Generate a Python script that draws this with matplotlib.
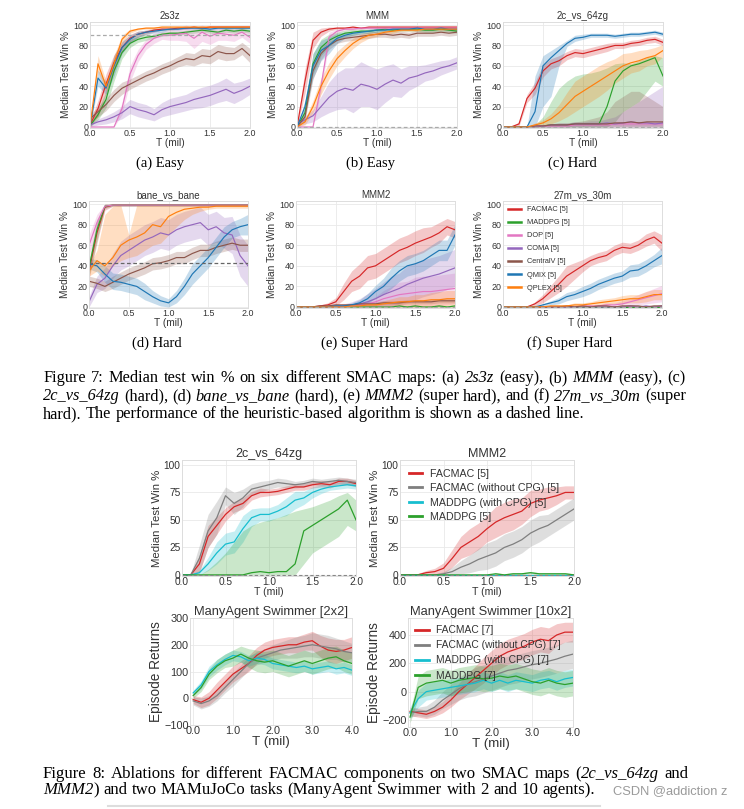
import numpy as np
import matplotlib
matplotlib.use('Agg')
import matplotlib.pyplot as plt

plt.rcParams['font.family'] = ['Liberation Sans', 'DejaVu Sans']

# ---------------- data ----------------
t_smac = [0.0, 0.1, 0.2, 0.3, 0.4, 0.5, 0.6, 0.7, 0.8, 0.9, 1.0,
          1.1, 1.2, 1.3, 1.4, 1.5, 1.6, 1.7, 1.8, 1.9, 2.0]
t_swim = [0.0, 0.2, 0.4, 0.6, 0.8, 1.0, 1.2, 1.4, 1.6, 1.8, 2.0,
          2.2, 2.4, 2.6, 2.8, 3.0, 3.2, 3.4, 3.6, 3.8, 4.0]

algos = ['FACMAC [5]', 'MADDPG [5]', 'DOP [5]', 'COMA [5]', 'CentralV [5]', 'QMIX [5]', 'QPLEX [5]']
algo_colors = ['#d62728', '#2ca02c', '#e377c2', '#9467bd', '#8c564b', '#1f77b4', '#ff7f0e']

# (a) 2s3z
a_facmac = [2, 18, 42, 63, 78, 87, 91, 93, 95, 96, 96, 97, 97, 98, 97, 98, 98, 98, 98, 98, 98]
a_facmac_sd = [3, 8, 10, 8, 5, 4, 3, 2, 2, 1, 1, 1, 1, 1, 1, 1, 1, 1, 1, 1, 1]
a_maddpg = [1, 12, 27, 55, 73, 82, 86, 88, 89, 91, 92, 92, 93, 94, 95, 94, 93, 95, 94, 95, 94]
a_maddpg_sd = [2, 5, 8, 10, 6, 4, 3, 3, 2, 2, 2, 2, 2, 2, 2, 2, 2, 2, 2, 2, 2]
a_dop = [0, 0, 0, 0, 18, 52, 70, 81, 87, 90, 90, 91, 92, 87, 93, 89, 92, 91, 90, 93, 88]
a_dop_sd = [0, 0, 0, 1, 6, 8, 6, 5, 5, 4, 5, 6, 8, 10, 9, 8, 7, 6, 6, 5, 6]
a_coma = [2, 5, 7, 10, 14, 20, 17, 15, 12, 17, 20, 22, 24, 27, 29, 31, 34, 37, 33, 36, 40]
a_coma_sd = [2, 3, 4, 5, 6, 7, 7, 7, 6, 7, 8, 8, 8, 9, 10, 10, 10, 11, 10, 9, 8]
a_central = [8, 15, 22, 31, 38, 42, 46, 50, 53, 57, 60, 64, 67, 66, 70, 69, 74, 72, 72, 77, 70]
a_central_sd = [4, 5, 6, 6, 6, 5, 5, 5, 5, 5, 5, 5, 6, 6, 7, 7, 7, 7, 6, 6, 7]
a_qmix = [0, 48, 38, 60, 78, 86, 91, 93, 94, 95, 96, 96, 97, 97, 97, 96, 97, 97, 97, 97, 97]
a_qmix_sd = [1, 8, 6, 10, 6, 4, 3, 2, 2, 2, 1, 1, 1, 1, 1, 1, 1, 1, 1, 1, 1]
a_qplex = [0, 62, 40, 62, 86, 94, 96, 97, 97, 98, 98, 98, 98, 98, 98, 98, 98, 98, 98, 98, 98]
a_qplex_sd = [1, 8, 5, 8, 4, 2, 1, 1, 1, 1, 1, 1, 1, 1, 1, 1, 1, 1, 1, 1, 1]

# (b) MMM
b_facmac = [0, 45, 85, 93, 96, 97, 97, 98, 97, 98, 98, 98, 98, 98, 98, 98, 98, 98, 98, 98, 98]
b_facmac_sd = [1, 12, 8, 4, 2, 1, 1, 1, 1, 1, 1, 1, 1, 1, 1, 1, 1, 1, 1, 1, 1]
b_maddpg = [0, 14, 62, 78, 85, 89, 92, 93, 94, 94, 95, 96, 95, 96, 96, 96, 95, 95, 96, 95, 94]
b_maddpg_sd = [1, 5, 10, 8, 6, 4, 3, 3, 2, 2, 2, 2, 2, 2, 2, 2, 2, 2, 2, 2, 2]
b_dop = [0, 0, 0, 40, 88, 94, 96, 96, 97, 97, 97, 97, 97, 97, 97, 97, 97, 97, 97, 97, 97]
b_dop_sd = [0, 0, 0, 6, 5, 2, 1, 1, 1, 1, 1, 1, 1, 1, 1, 1, 1, 1, 1, 1, 1]
b_coma = [3, 7, 11, 20, 29, 35, 38, 36, 42, 40, 37, 42, 46, 43, 48, 50, 53, 55, 58, 60, 63]
b_coma_sd = [3, 4, 6, 10, 15, 18, 20, 22, 22, 20, 20, 18, 16, 14, 12, 10, 8, 8, 7, 6, 6]
b_central = [0, 10, 55, 72, 80, 85, 87, 88, 89, 90, 91, 91, 90, 91, 90, 92, 92, 92, 93, 92, 93]
b_central_sd = [1, 4, 8, 6, 4, 3, 3, 3, 3, 3, 3, 3, 3, 3, 3, 3, 3, 3, 3, 3, 3]
b_qmix = [0, 20, 60, 75, 80, 87, 90, 92, 93, 94, 95, 95, 96, 96, 96, 97, 96, 96, 97, 96, 96]
b_qmix_sd = [1, 6, 12, 10, 8, 5, 3, 2, 2, 2, 2, 1, 1, 1, 1, 1, 1, 1, 1, 1, 1]
b_qplex = [0, 5, 20, 40, 55, 67, 75, 82, 87, 90, 91, 93, 94, 95, 95, 95, 96, 96, 96, 96, 96]
b_qplex_sd = [1, 3, 6, 8, 8, 7, 6, 5, 4, 3, 2, 2, 2, 1, 1, 1, 1, 1, 1, 1, 1]

# (c) 2c_vs_64zg
c_facmac = [0, 0, 3, 28, 38, 55, 62, 65, 70, 73, 72, 74, 76, 78, 80, 80, 82, 83, 85, 86, 83]
c_facmac_sd = [0, 0, 2, 4, 6, 6, 5, 5, 4, 4, 4, 4, 4, 4, 3, 3, 3, 3, 3, 3, 3]
c_maddpg = [0, 0, 0, 0, 0, 1, 2, 2, 2, 3, 3, 3, 3, 20, 45, 55, 60, 62, 65, 68, 50]
c_maddpg_lo = [0, 0, 0, 0, 0, 0, 0, 0, 0, 0, 0, 0, 0, 0, 5, 15, 20, 25, 35, 45, 40]
c_maddpg_hi = [0, 0, 0, 0, 2, 10, 25, 38, 45, 50, 52, 53, 55, 58, 62, 63, 62, 65, 68, 70, 68]
c_dop = [0, 0, 0, 0, 0, 1, 1, 1, 1, 2, 2, 2, 2, 2, 3, 3, 3, 3, 3, 3, 3]
c_dop_sd = [0, 0, 0, 0, 0, 1, 1, 1, 1, 1, 1, 1, 1, 1, 2, 2, 2, 2, 2, 2, 2]
c_coma = [0, 0, 0, 0, 1, 1, 2, 2, 2, 3, 3, 3, 3, 4, 3, 4, 5, 4, 4, 3, 4]
c_coma_lo = [0, 0, 0, 0, 0, 0, 0, 0, 0, 0, 0, 0, 0, 0, 0, 0, 0, 0, 0, 0, 0]
c_coma_hi = [0, 0, 0, 0, 1, 2, 3, 4, 4, 5, 5, 6, 6, 8, 10, 15, 20, 25, 30, 35, 40]
c_central = [0, 0, 0, 0, 1, 1, 2, 2, 2, 3, 3, 3, 3, 3, 4, 4, 5, 4, 5, 5, 5]
c_central_lo = [0, 0, 0, 0, 0, 0, 0, 0, 0, 0, 0, 0, 0, 0, 0, 0, 0, 0, 0, 0, 0]
c_central_hi = [0, 0, 0, 0, 1, 2, 3, 4, 4, 5, 6, 8, 10, 15, 25, 30, 35, 35, 30, 25, 20]
c_qmix = [0, 0, 0, 0, 15, 60, 68, 75, 82, 87, 88, 90, 90, 90, 89, 90, 91, 91, 92, 93, 91]
c_qmix_lo = [0, 0, 0, 0, 0, 20, 30, 60, 79, 84, 86, 88, 88, 88, 87, 88, 89, 89, 90, 91, 89]
c_qmix_hi = [0, 0, 0, 0, 50, 70, 75, 80, 85, 90, 91, 92, 92, 92, 91, 92, 93, 93, 94, 95, 93]
c_qplex = [0, 0, 0, 0, 2, 4, 8, 14, 22, 30, 35, 40, 45, 50, 55, 60, 63, 65, 68, 70, 75]
c_qplex_sd = [0, 0, 0, 0, 2, 3, 5, 8, 12, 15, 15, 15, 15, 14, 12, 12, 10, 10, 8, 8, 6]

# (d) bane_vs_bane
d_facmac = [35, 72, 97, 99, 99, 99, 99, 99, 99, 99, 99, 99, 99, 99, 99, 99, 99, 99, 99, 99, 99]
d_facmac_sd = [8, 10, 3, 1, 1, 1, 1, 1, 1, 1, 1, 1, 1, 1, 1, 1, 1, 1, 1, 1, 1]
d_maddpg = [38, 75, 98, 99, 99, 99, 99, 99, 99, 99, 99, 99, 99, 99, 99, 99, 99, 99, 99, 99, 99]
d_maddpg_sd = [8, 10, 2, 1, 1, 1, 1, 1, 1, 1, 1, 1, 1, 1, 1, 1, 1, 1, 1, 1, 1]
d_dop = [60, 82, 98, 99, 99, 99, 99, 99, 99, 99, 99, 99, 99, 99, 99, 99, 99, 99, 99, 99, 99]
d_dop_sd = [10, 8, 2, 1, 1, 1, 1, 1, 1, 1, 1, 1, 1, 1, 1, 1, 1, 1, 1, 1, 1]
d_coma = [5, 22, 28, 40, 50, 55, 60, 65, 68, 72, 70, 75, 78, 80, 82, 75, 78, 72, 70, 50, 40]
d_coma_sd = [5, 8, 10, 12, 14, 15, 15, 15, 15, 15, 15, 15, 15, 15, 15, 15, 15, 15, 18, 20, 20]
d_central = [25, 23, 20, 24, 28, 32, 35, 38, 42, 43, 45, 48, 48, 52, 55, 55, 58, 60, 62, 60, 60]
d_central_sd = [5, 5, 5, 6, 6, 6, 6, 6, 6, 6, 6, 6, 6, 6, 6, 6, 6, 6, 6, 6, 6]
d_qmix = [42, 40, 32, 25, 24, 22, 20, 15, 10, 6, 4, 10, 20, 32, 40, 48, 58, 68, 75, 78, 80]
d_qmix_sd = [5, 6, 8, 8, 8, 8, 8, 8, 6, 5, 4, 6, 8, 10, 10, 10, 10, 10, 8, 8, 10]
d_qplex = [35, 45, 40, 48, 60, 65, 68, 72, 80, 78, 88, 92, 95, 96, 97, 97, 98, 98, 98, 98, 98]
d_qplex_lo = [30, 35, 30, 40, 45, 48, 50, 55, 60, 62, 70, 78, 85, 90, 93, 95, 96, 96, 96, 96, 96]
d_qplex_hi = [40, 55, 90, 98, 99, 70, 99, 99, 99, 99, 99, 99, 99, 99, 99, 99, 99, 99, 99, 99, 99]

# (e) MMM2
e_facmac = [0, 0, 0, 1, 2, 5, 15, 25, 30, 38, 40, 45, 50, 55, 58, 62, 65, 68, 72, 78, 75]
e_facmac_sd = [0, 0, 0, 1, 2, 4, 8, 10, 12, 12, 12, 12, 12, 12, 12, 12, 12, 10, 10, 8, 8]
e_maddpg = [0, 0, 0, 0, 0, 0, 0, 0, 0, 0, 0, 0, 0, 1, 0, 1, 0, 0, 1, 0, 1]
e_maddpg_sd = [0, 0, 0, 0, 0, 0, 0, 0, 0, 0, 0, 0, 0, 1, 1, 1, 1, 1, 1, 1, 1]
e_dop = [0, 0, 0, 0, 0, 0, 0, 1, 2, 3, 5, 8, 10, 12, 13, 14, 15, 15, 16, 17, 18]
e_dop_sd = [0, 0, 0, 0, 0, 0, 0, 1, 2, 3, 5, 8, 10, 12, 12, 15, 15, 15, 15, 15, 15]
e_coma = [0, 0, 0, 0, 0, 1, 1, 2, 3, 5, 8, 12, 15, 18, 22, 25, 28, 30, 32, 35, 38]
e_coma_sd = [0, 0, 0, 0, 0, 1, 2, 3, 5, 8, 10, 12, 15, 15, 18, 18, 18, 18, 18, 18, 18]
e_central = [0, 0, 0, 1, 1, 2, 2, 2, 3, 3, 3, 4, 4, 4, 5, 5, 5, 5, 6, 6, 6]
e_central_sd = [0, 0, 0, 1, 1, 1, 1, 1, 1, 2, 2, 2, 2, 2, 2, 2, 2, 2, 2, 2, 2]
e_qmix = [0, 0, 0, 0, 0, 1, 1, 2, 4, 8, 15, 20, 28, 35, 40, 42, 45, 50, 55, 55, 70]
e_qmix_sd = [0, 0, 0, 0, 0, 1, 1, 2, 3, 5, 6, 8, 10, 10, 10, 10, 10, 10, 10, 10, 10]
e_qplex = [0, 0, 0, 0, 0, 0, 0, 1, 1, 2, 2, 3, 4, 5, 5, 6, 6, 7, 7, 8, 8]
e_qplex_sd = [0, 0, 0, 0, 0, 0, 0, 1, 1, 2, 2, 3, 4, 5, 5, 6, 6, 7, 8, 8, 8]

# (f) 27m_vs_30m
f_facmac = [0, 0, 0, 0, 3, 8, 15, 22, 30, 35, 40, 45, 48, 50, 55, 58, 57, 60, 65, 68, 62]
f_facmac_sd = [0, 0, 0, 0, 2, 4, 6, 8, 10, 8, 6, 5, 5, 5, 5, 5, 5, 5, 6, 6, 8]
f_maddpg = [0, 0, 0, 0, 0, 0, 0, 0, 0, 0, 0, 0, 0, 0, 0, 0, 0, 0, 0, 0, 0]
f_maddpg_sd = [0, 0, 0, 0, 0, 0, 0, 0, 0, 0, 0, 0, 0, 0, 0, 0, 0, 0, 0, 0, 0]
f_dop = [0, 0, 0, 0, 0, 0, 0, 0, 0, 0, 1, 1, 1, 2, 2, 3, 5, 7, 9, 11, 13]
f_dop_sd = [0, 0, 0, 0, 0, 0, 0, 0, 0, 0, 1, 1, 1, 2, 2, 3, 4, 5, 6, 7, 8]
f_coma = [0, 0, 0, 0, 0, 0, 0, 0, 0, 0, 0, 0, 0, 0, 0, 0, 1, 0, 1, 0, 1]
f_coma_sd = [0, 0, 0, 0, 0, 0, 0, 0, 0, 0, 0, 0, 0, 0, 0, 0, 1, 1, 1, 1, 1]
f_central = [0, 0, 0, 0, 0, 0, 0, 0, 1, 0, 1, 0, 1, 1, 0, 1, 1, 1, 0, 1, 1]
f_central_sd = [0, 0, 0, 0, 0, 0, 0, 0, 1, 1, 1, 1, 1, 1, 1, 1, 1, 1, 1, 1, 1]
f_qmix = [0, 0, 0, 0, 0, 2, 4, 6, 10, 12, 15, 18, 22, 25, 28, 30, 35, 36, 40, 45, 50]
f_qmix_sd = [0, 0, 0, 0, 0, 1, 2, 3, 4, 4, 5, 5, 5, 5, 5, 5, 6, 6, 6, 6, 8]
f_qplex = [0, 0, 0, 0, 0, 0, 1, 1, 1, 2, 2, 3, 4, 5, 6, 7, 8, 8, 10, 12, 12]
f_qplex_sd = [0, 0, 0, 0, 0, 0, 1, 1, 1, 2, 2, 2, 3, 3, 3, 4, 4, 4, 5, 5, 5]

# Figure 8 ablations
abl_names = ['FACMAC', 'FACMAC (without CPG)', 'MADDPG (with CPG)', 'MADDPG']
abl_colors = ['#d62728', '#7f7f7f', '#17becf', '#2ca02c']

g_facmac = [0, 0, 10, 35, 45, 55, 62, 65, 72, 75, 75, 76, 78, 80, 80, 82, 83, 82, 85, 85, 83]
g_facmac_sd = [0, 1, 8, 10, 8, 6, 5, 5, 4, 4, 3, 3, 3, 3, 3, 3, 3, 3, 3, 3, 3]
g_nocpg = [0, 0, 15, 40, 52, 72, 65, 70, 78, 80, 82, 84, 83, 82, 83, 85, 84, 85, 86, 85, 84]
g_nocpg_sd = [0, 1, 12, 15, 15, 8, 10, 8, 5, 5, 4, 4, 4, 3, 3, 3, 3, 3, 3, 3, 3]
g_withcpg = [0, 0, 2, 10, 20, 28, 30, 42, 52, 55, 55, 58, 62, 68, 70, 75, 78, 80, 81, 82, 81]
g_withcpg_sd = [0, 0, 2, 6, 10, 10, 10, 12, 8, 6, 6, 6, 8, 8, 6, 5, 4, 3, 3, 3, 3]
g_maddpg = [0, 0, 0, 0, 0, 0, 0, 0, 2, 3, 2, 3, 3, 10, 40, 45, 50, 55, 60, 68, 50]
g_maddpg_lo = [0, 0, 0, 0, 0, 0, 0, 0, 0, 0, 0, 0, 0, 0, 10, 20, 25, 30, 35, 45, 40]
g_maddpg_hi = [0, 0, 0, 5, 12, 20, 30, 40, 45, 48, 50, 52, 55, 58, 60, 62, 65, 68, 72, 75, 68]

h_facmac = [0, 0, 0, 2, 3, 6, 15, 25, 30, 35, 42, 48, 52, 55, 58, 65, 68, 70, 72, 75, 75]
h_facmac_sd = [0, 0, 1, 2, 3, 5, 8, 10, 12, 12, 12, 14, 14, 14, 12, 12, 10, 10, 8, 6, 6]
h_nocpg = [0, 0, 0, 0, 0, 1, 3, 7, 10, 14, 17, 20, 25, 28, 32, 38, 42, 45, 50, 55, 60]
h_nocpg_sd = [0, 0, 0, 0, 1, 2, 4, 6, 8, 10, 12, 12, 12, 12, 12, 12, 12, 10, 10, 10, 10]
h_withcpg = [0, 0, 0, 0, 0, 0, 0, 0, 0, 0, 0, 0, 0, 0, 0, 0, 0, 0, 0, 0, 0]
h_withcpg_sd = [0, 0, 0, 0, 0, 0, 0, 0, 0, 0, 0, 0, 0, 0, 0, 0, 0, 0, 0, 0, 0]
h_maddpg = [0, 0, 0, 0, 0, 0, 0, 0, 0, 0, 0, 1, 0, 1, 1, 2, 1, 1, 1, 1, 0]
h_maddpg_sd = [0, 0, 0, 0, 0, 0, 0, 0, 0, 0, 0, 1, 1, 1, 1, 1, 1, 1, 1, 1, 1]

s2_facmac = [-5, -15, 0, 30, 60, 90, 110, 130, 160, 180, 190, 195, 200, 200, 210, 215, 195, 180, 175, 180, 190]
s2_facmac_sd = [15, 20, 25, 30, 30, 30, 30, 30, 30, 30, 30, 30, 30, 30, 30, 35, 40, 45, 45, 40, 40]
s2_nocpg = [-10, -20, -10, 10, 40, 70, 100, 130, 150, 160, 170, 180, 185, 190, 195, 200, 195, 190, 185, 175, 170]
s2_nocpg_sd = [15, 20, 20, 20, 20, 25, 25, 25, 25, 25, 30, 30, 35, 40, 40, 45, 45, 45, 40, 40, 35]
s2_withcpg = [20, 50, 100, 125, 145, 160, 155, 140, 150, 145, 130, 125, 120, 115, 120, 110, 115, 120, 110, 115, 105]
s2_withcpg_sd = [10, 15, 20, 20, 20, 20, 20, 20, 20, 20, 20, 20, 20, 20, 20, 20, 20, 20, 20, 20, 20]
s2_maddpg = [10, 40, 90, 120, 140, 150, 165, 150, 140, 135, 140, 130, 120, 130, 140, 130, 140, 150, 155, 140, 130]
s2_maddpg_sd = [10, 15, 20, 25, 25, 30, 30, 35, 40, 40, 40, 40, 40, 40, 40, 40, 40, 40, 40, 40, 40]

s10_facmac = [-140, -150, -160, -140, -110, -60, 0, 50, 100, 150, 200, 250, 280, 300, 320, 350, 370, 360, 400, 420, 420]
s10_facmac_sd = [30, 30, 30, 35, 40, 50, 60, 70, 80, 90, 90, 90, 90, 90, 90, 90, 90, 90, 80, 70, 70]
s10_nocpg = [-150, -140, -140, -110, -60, -20, 20, 50, 70, 90, 110, 130, 150, 160, 175, 190, 200, 215, 230, 250, 265]
s10_nocpg_sd = [30, 30, 40, 50, 60, 70, 80, 90, 100, 100, 100, 100, 100, 100, 100, 100, 100, 100, 100, 100, 100]
s10_withcpg = [-150, -50, 0, 10, 20, 30, 40, 50, 60, 80, 60, 80, 60, 80, 70, 60, 80, 90, 70, 90, 100]
s10_withcpg_sd = [40, 60, 60, 60, 60, 60, 60, 60, 60, 60, 60, 60, 60, 60, 60, 60, 60, 60, 60, 60, 60]
s10_maddpg = [-180, 30, 60, 70, 80, 60, 80, 90, 100, 90, 95, 110, 100, 110, 90, 70, 60, 80, 60, 50, 60]
s10_maddpg_sd = [40, 80, 90, 90, 90, 90, 90, 90, 90, 90, 90, 90, 90, 90, 90, 90, 90, 90, 90, 90, 90]


def band(mean, sd=None, lo=None, hi=None, clip=True):
    m = np.array(mean, float)
    if sd is not None:
        lo, hi = m - np.array(sd), m + np.array(sd)
    lo, hi = np.array(lo, float), np.array(hi, float)
    if clip:
        lo, hi = np.clip(lo, 0, 100), np.clip(hi, 0, 100)
    return m, lo, hi


panels = {
    'a': [band(a_facmac, a_facmac_sd), band(a_maddpg, a_maddpg_sd), band(a_dop, a_dop_sd),
          band(a_coma, a_coma_sd), band(a_central, a_central_sd), band(a_qmix, a_qmix_sd),
          band(a_qplex, a_qplex_sd)],
    'b': [band(b_facmac, b_facmac_sd), band(b_maddpg, b_maddpg_sd), band(b_dop, b_dop_sd),
          band(b_coma, b_coma_sd), band(b_central, b_central_sd), band(b_qmix, b_qmix_sd),
          band(b_qplex, b_qplex_sd)],
    'c': [band(c_facmac, c_facmac_sd), band(c_maddpg, lo=c_maddpg_lo, hi=c_maddpg_hi),
          band(c_dop, c_dop_sd), band(c_coma, lo=c_coma_lo, hi=c_coma_hi),
          band(c_central, lo=c_central_lo, hi=c_central_hi),
          band(c_qmix, lo=c_qmix_lo, hi=c_qmix_hi), band(c_qplex, c_qplex_sd)],
    'd': [band(d_facmac, d_facmac_sd), band(d_maddpg, d_maddpg_sd), band(d_dop, d_dop_sd),
          band(d_coma, d_coma_sd), band(d_central, d_central_sd), band(d_qmix, d_qmix_sd),
          band(d_qplex, lo=d_qplex_lo, hi=d_qplex_hi)],
    'e': [band(e_facmac, e_facmac_sd), band(e_maddpg, e_maddpg_sd), band(e_dop, e_dop_sd),
          band(e_coma, e_coma_sd), band(e_central, e_central_sd), band(e_qmix, e_qmix_sd),
          band(e_qplex, e_qplex_sd)],
    'f': [band(f_facmac, f_facmac_sd), band(f_maddpg, f_maddpg_sd), band(f_dop, f_dop_sd),
          band(f_coma, f_coma_sd), band(f_central, f_central_sd), band(f_qmix, f_qmix_sd),
          band(f_qplex, f_qplex_sd)],
}
abl_panels = {
    'g': [band(g_facmac, g_facmac_sd), band(g_nocpg, g_nocpg_sd), band(g_withcpg, g_withcpg_sd),
          band(g_maddpg, lo=g_maddpg_lo, hi=g_maddpg_hi)],
    'h': [band(h_facmac, h_facmac_sd), band(h_nocpg, h_nocpg_sd), band(h_withcpg, h_withcpg_sd),
          band(h_maddpg, h_maddpg_sd)],
    's2': [band(s2_facmac, s2_facmac_sd, clip=False), band(s2_nocpg, s2_nocpg_sd, clip=False),
           band(s2_withcpg, s2_withcpg_sd, clip=False), band(s2_maddpg, s2_maddpg_sd, clip=False)],
    's10': [band(s10_facmac, s10_facmac_sd, clip=False), band(s10_nocpg, s10_nocpg_sd, clip=False),
            band(s10_withcpg, s10_withcpg_sd, clip=False), band(s10_maddpg, s10_maddpg_sd, clip=False)],
}

# ---------------- figure ----------------
W, H = 744, 809
fig = plt.figure(figsize=(W / 100, H / 100), dpi=100)
TXT = '#333333'


def px_axes(l, t, r, b):
    return fig.add_axes([l / W, 1 - b / H, (r - l) / W, (b - t) / H])


def style(ax, tick_fs):
    ax.set_facecolor('white')
    ax.grid(True, color='#e9e9e9', lw=0.6)
    ax.set_axisbelow(True)
    for s in ax.spines.values():
        s.set_color('#dddddd')
        s.set_linewidth(0.7)
    ax.tick_params(length=0, labelsize=tick_fs, colors=TXT, pad=1)


def smac_panel(box, key, title, heur, heur_color='#aaaaaa'):
    ax = px_axes(*box)
    style(ax, 6.4)
    for (m, lo, hi), c, n in zip(panels[key], algo_colors, algos):
        ax.fill_between(t_smac, lo, hi, color=c, alpha=0.25, lw=0)
        ax.plot(t_smac, m, color=c, lw=0.85, label=n)
    ax.axhline(heur, color=heur_color, ls='--', lw=0.9, dashes=(3, 2))
    ax.set_xlim(0, 2)
    ax.set_ylim(-1, 103)
    ax.set_xticks([0, 0.5, 1.0, 1.5, 2.0])
    ax.set_xticklabels(['0.0', '0.5', '1.0', '1.5', '2.0'])
    ax.set_yticks([0, 20, 40, 60, 80, 100])
    ax.set_title(title, fontsize=7, color=TXT, pad=2)
    ax.set_xlabel('T (mil)', fontsize=7.3, color=TXT, labelpad=0)
    ax.set_ylabel('Median Test Win %', fontsize=7.3, color=TXT, labelpad=2)
    return ax


smac_panel((90, 22, 250, 128), 'a', '2s3z', 90)
smac_panel((297, 22, 457, 128), 'b', 'MMM', 0)
smac_panel((503, 22, 663, 128), 'c', '2c_vs_64zg', 0)
smac_panel((89, 201, 248, 308), 'd', 'bane_vs_bane', 43, '#666666')
smac_panel((296, 201, 455, 308), 'e', 'MMM2', 0)
axf = smac_panel((503, 201, 662, 308), 'f', '27m_vs_30m', 0)
handles, labels = axf.get_legend_handles_labels()
leg = axf.legend(handles, labels, loc='upper left', frameon=False, fontsize=5.3, labelspacing=0.8,
                 handlelength=1.8, handletextpad=0.8, borderaxespad=0.4, borderpad=0.3)
for l in leg.get_lines():
    l.set_linewidth(1.8)
for t in leg.get_texts():
    t.set_color(TXT)

serif = 'Liberation Serif'
for x, y, s in [(160, 163, '(a) Easy'), (370, 163, '(b) Easy'), (572, 163, '(c) Hard'),
                (157, 343, '(d) Hard'), (364, 343, '(e) Super Hard'), (570, 343, '(f) Super Hard')]:
    fig.text(x / W, 1 - y / H, s, family=serif, fontsize=10.5, ha='center', va='center')


def abl_panel(box, key, title, x, xlim, ylim, yticks, xticks, xtl, ylabel, fs):
    ax = px_axes(*box)
    style(ax, fs['tick'])
    for (m, lo, hi), c, n in zip(abl_panels[key], abl_colors, abl_names):
        ax.fill_between(x, lo, hi, color=c, alpha=0.25, lw=0)
        ax.plot(x, m, color=c, lw=0.9, label=n)
    ax.set_xlim(*xlim)
    ax.set_ylim(*ylim)
    ax.set_xticks(xticks)
    ax.set_xticklabels(xtl)
    ax.set_yticks(yticks)
    ax.set_title(title, fontsize=fs['title'], color=TXT, pad=1.5)
    ax.set_xlabel('T (mil)', fontsize=fs['label'], color=TXT, labelpad=0)
    ax.set_ylabel(ylabel, fontsize=fs['ylabel'], color=TXT, labelpad=1)
    return ax


smac_x = ([0, 0.5, 1.0, 1.5, 2.0], ['0.0', '0.5', '1.0', '1.5', '2.0'])
swim_x = ([0, 1, 2, 3, 4], ['0.0', '1.0', '2.0', '3.0', '4.0'])
fs_smac = dict(tick=7.3, title=9, label=7.6, ylabel=8.2)
fs_swim = dict(tick=7.8, title=9.3, label=9.6, ylabel=9.8)

axg = abl_panel((182, 460, 356, 576), 'g', '2c_vs_64zg', t_smac, (0, 2), (-1, 104.5),
                [0, 25, 50, 75, 100], *smac_x, 'Median Test Win %', fs_smac)
axg.axhline(0, color='#888888', ls='--', lw=0.8, dashes=(3, 2))
axh = abl_panel((400, 460, 574, 576), 'h', 'MMM2', t_smac, (0, 2), (-1, 104.5),
                [0, 25, 50, 75, 100], *smac_x, 'Median Test Win %', fs_smac)
axh.axhline(0, color='#888888', ls='--', lw=0.8, dashes=(3, 2))
handles, labels = axh.get_legend_handles_labels()
leg = axh.legend(handles, [n + ' [5]' for n in labels], loc='upper left', frameon=False,
                 fontsize=7.7, labelspacing=0.42, handlelength=1.3, handletextpad=0.7,
                 borderaxespad=0.5, borderpad=0.3)
for l in leg.get_lines():
    l.set_linewidth(2)
for t in leg.get_texts():
    t.set_color(TXT)

abl_panel((190, 618, 352, 725), 's2', 'ManyAgent Swimmer [2x2]', t_swim, (-0.08, 4.0),
          (-100, 300), [-100, 0, 100, 200, 300], *swim_x, 'Episode Returns', fs_swim)
ax10 = abl_panel((408, 618, 573, 727), 's10', 'ManyAgent Swimmer [10x2]', t_swim, (-0.05, 4.0),
                 (-250, 520), [-200, 0, 200, 400], *swim_x, 'Episode Returns', fs_swim)
handles, labels = ax10.get_legend_handles_labels()
leg = ax10.legend(handles, [n + ' [7]' for n in labels], loc='upper left', frameon=False,
                  fontsize=7.4, labelspacing=0.5, handlelength=1.3, handletextpad=0.7,
                  borderaxespad=0.4, borderpad=0.3)
for l in leg.get_lines():
    l.set_linewidth(2)
for t in leg.get_texts():
    t.set_color(TXT)

# ---------------- captions ----------------
renderer = fig.canvas.get_renderer()


def text_width(s, size, st='normal'):
    t = fig.text(0, 0, s, family=serif, fontsize=size, style=st)
    w = t.get_window_extent(renderer).width
    t.remove()
    return w


def caption_line(line, x0, x1, y, size, justify):
    italic = False
    words = []
    for w in line.split(' '):
        pieces = []
        for k, part in enumerate(w.split('*')):
            if k > 0:
                italic = not italic
            if part:
                pieces.append((part, 'italic' if italic else 'normal'))
        words.append(pieces)
    widths = [[text_width(p, size, st) for p, st in ws] for ws in words]
    total = sum(sum(w) for w in widths)
    gap = text_width('a a', size) - text_width('aa', size)
    if justify:
        gap = (x1 - x0 - total) / (len(words) - 1)
    x = x0
    for ws, wd in zip(words, widths):
        for (p, st), w in zip(ws, wd):
            fig.text(x / W, 1 - y / H, p, family=serif, fontsize=size, style=st, va='baseline')
            x += w
        x += gap
    return x


cap7 = ["Figure 7: Median test win % on six different SMAC maps: (a) *2s3z* (easy), (b) *MMM* (easy), (c)",
        "*2c_vs_64zg* (hard), (d) *bane_vs_bane* (hard), (e) *MMM2* (super hard), and (f) *27m_vs_30m* (super",
        "hard). The performance of the heuristic-based algorithm is shown as a dashed line."]
cap8 = ["Figure 8: Ablations for different FACMAC components on two SMAC maps (*2c_vs_64zg* and",
        "*MMM2*) and two MAMuJoCo tasks (ManyAgent Swimmer with 2 and 10 agents)."]

size_a = 10 * (582 - 43) / text_width(cap7[2], 10)
size_b = 10 * (680 - 43) / text_width(cap7[0].replace('*', ''), 10)
size7 = 0.5 * (size_a + size_b)
caption_line(cap7[0], 43, 686, 382, size7, True)
caption_line(cap7[1], 43, 686, 400, size7, True)
caption_line(cap7[2], 43, 686, 418, size7, False)
size8 = 10 * (602 - 43) / (text_width(cap8[1].replace('*', ''), 10) + 3)
caption_line(cap8[0], 43, 688, 778, size8, True)
caption_line(cap8[1], 43, 688, 794, size8, False)
fig.text(613 / W, 1 - 794 / H, 'CSDN @addiction z', fontsize=9.3, color='#9a9a9a', va='baseline')
fig.add_artist(plt.Line2D([108 / W, 600 / W], [1 - 806 / H, 1 - 806 / H], color='#dddddd', lw=1.5))

fig.savefig('out.png', dpi=100, facecolor='white')
